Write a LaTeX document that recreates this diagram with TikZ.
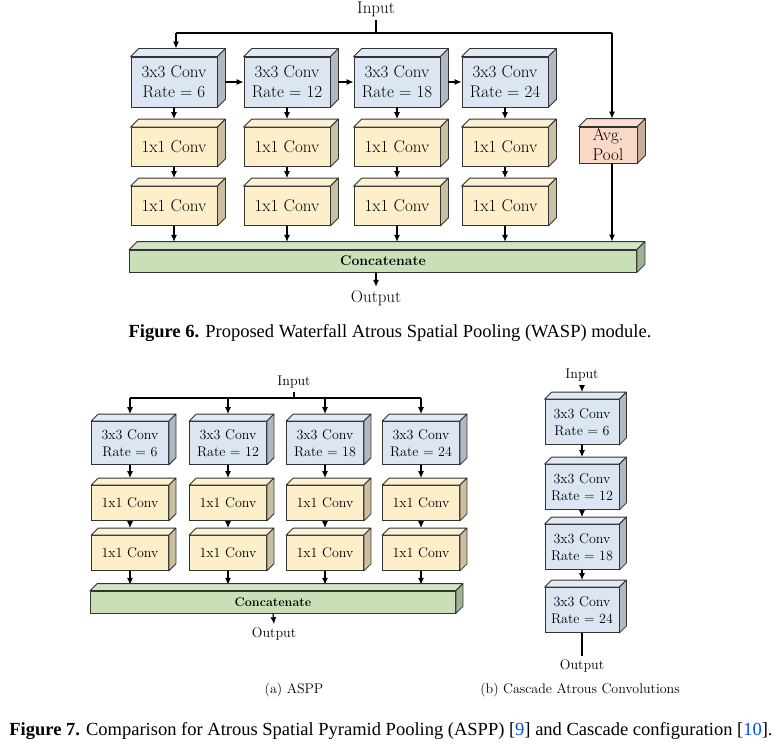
\documentclass[tikz,border=0pt]{standalone}
\usepackage{fontspec}
\newfontfamily\capfont{Liberation Serif}
\usetikzlibrary{calc,arrows.meta}
\definecolor{cblue}{HTML}{DCE6F2}
\definecolor{cyel}{HTML}{FCEFC9}
\definecolor{cpink}{HTML}{F8D9C6}
\definecolor{cgreen}{HTML}{C9DFB8}
\tikzset{
  box/.style={draw=black!80,line width=0.8pt,inner sep=0pt,align=center},
  face/.style={draw=black!80,line width=0.8pt,line join=round},
  arr/.style={line width=1.2pt,-{Latex[length=7pt,width=6pt]}},
  ln/.style={line width=1.2pt},
  big/.style={font=\fontsize{17}{20}\selectfont},
  mid/.style={font=\fontsize{14}{17}\selectfont},
}
% \cub{name}{center}{w}{h}{color}{depth}{style}{text}
\newcommand\cub[8]{%
  \node[box,#7,fill=#5,minimum width=#3pt,minimum height=#4pt] (#1) at (#2) {#8};
  \draw[face,fill=#5!85!white] (#1.north west) -- ++(#6,-#6) -- ($(#1.north east)+(#6,-#6)$) -- (#1.north east) -- cycle;
  \draw[face,fill=#5!80!black] (#1.north east) -- ++(#6,-#6) -- ($(#1.south east)+(#6,-#6)$) -- (#1.south east) -- cycle;
}
\begin{document}
\begin{tikzpicture}[x=1pt,y=-1pt]
\useasboundingbox (0,0) rectangle (783,752);
% ===== Figure 6 =====
\node[big] (in6) at (376,9) {Input};
\foreach \i/\x/\r in {1/174/6,2/287/12,3/397/18,4/505/24}{
  \cub{c\i}{\x,82}{86}{50}{cblue}{8}{big}{3x3 Conv\\Rate = \r}
  \cub{a\i}{\x,147}{86}{39}{cyel}{8}{big}{1x1 Conv}
  \cub{b\i}{\x,206}{86}{39}{cyel}{8}{big}{1x1 Conv}
}
\cub{pool}{608,145}{58}{36}{cpink}{8}{big}{Avg.\\Pool}
\cub{cat}{383,261}{507}{22}{cgreen}{8}{mid}{\textbf{Concatenate}}
\node[big] (out6) at (376,298) {Output};
\coordinate (tl) at (176,33);
\coordinate (tr) at (612,33);
\draw[ln] (in6.south) -- (376,33);
\draw[ln] (tl) -- (tr);
\draw[arr] (tl) -- ($(c1.north)+(2,-8)$);
\draw[arr] (tr) -- ($(pool.north)+(4,-8)$);
\draw[arr] ($(pool.south)+(4,0)$) -- ($(cat.north)+(229,-8)$);
\foreach \i in {1,2,3,4}{
  \draw[arr] (c\i.south) -- ($(a\i.north)+(0,-8)$);
  \draw[arr] (a\i.south) -- ($(b\i.north)+(0,-8)$);
  \draw[arr] (b\i.south) -- ($(b\i.south)+(0,16)$);
}
\foreach \i/\j in {1/2,2/3,3/4}{\draw[arr] ($(c\i.east)+(8,0)$) -- (c\j.west);}
\draw[arr] ($(cat.south)+(-7,0)$) -- (out6.north);
\node[font=\capfont\fontsize{18.5}{21}\selectfont] (cap6) at (390,333) {\textbf{Figure 6.} Proposed Waterfall Atrous Spatial Pooling (WASP) module.};
% ===== Figure 7a =====
\node[mid] (in7) at (294,382) {Input};
\coordinate (hl) at (130,398);
\coordinate (hr) at (421,398);
\draw[ln] (in7.south) -- (294,398);
\draw[ln] (hl) -- (hr);
\foreach \i/\x/\r in {1/130/6,2/228/12,3/325/18,4/421/24}{
  \cub{p\i}{\x,443}{77}{43}{cblue}{7}{mid}{3x3 Conv\\Rate = \r}
  \cub{q\i}{\x,503}{77}{35}{cyel}{7}{mid}{1x1 Conv}
  \cub{s\i}{\x,553}{77}{35}{cyel}{7}{mid}{1x1 Conv}
  \draw[arr] (\x,398) -- ($(p\i.north)+(0,-7)$);
  \draw[arr] (p\i.south) -- ($(q\i.north)+(0,-7)$);
  \draw[arr] (q\i.south) -- ($(s\i.north)+(0,-7)$);
  \draw[arr] (s\i.south) -- ($(s\i.south)+(0,14)$);
}
\cub{cat7}{273,602}{365}{22}{cgreen}{7}{font=\fontsize{12.5}{15}\selectfont}{\textbf{Concatenate}}
\node[mid] (out7) at (274,634) {Output};
\draw[arr] (cat7.south) -- (out7.north);
\node[mid] (capa) at (294,690) {(a) ASPP};
% ===== Figure 7b =====
\node[mid] (inb) at (582,375) {Input};
\foreach \i/\y/\r in {1/422/6,2/487/12,3/547/18,4/610/24}{
  \cub{k\i}{582,\y}{74}{45}{cblue}{7}{mid}{3x3 Conv\\Rate = \r}
}
\draw[arr] (inb.south) -- ($(k1.north)+(0,-7)$);
\foreach \i/\j in {1/2,2/3,3/4}{\draw[arr] (k\i.south) -- ($(k\j.north)+(0,-7)$);}
\node[mid] (outb) at (582,666) {Output};
\draw[ln] (k4.south) -- (outb.north);
\node[mid] (capb) at (580,690) {(b) Cascade Atrous Convolutions};
\node[font=\capfont\fontsize{18.5}{21}\selectfont] (cap7) at (391,731) {\textbf{Figure 7.} Comparison for Atrous Spatial Pyramid Pooling (ASPP) [\textcolor{blue!70!cyan}{9}] and Cascade configuration [\textcolor{blue!70!cyan}{10}].};
\end{tikzpicture}
\end{document}
